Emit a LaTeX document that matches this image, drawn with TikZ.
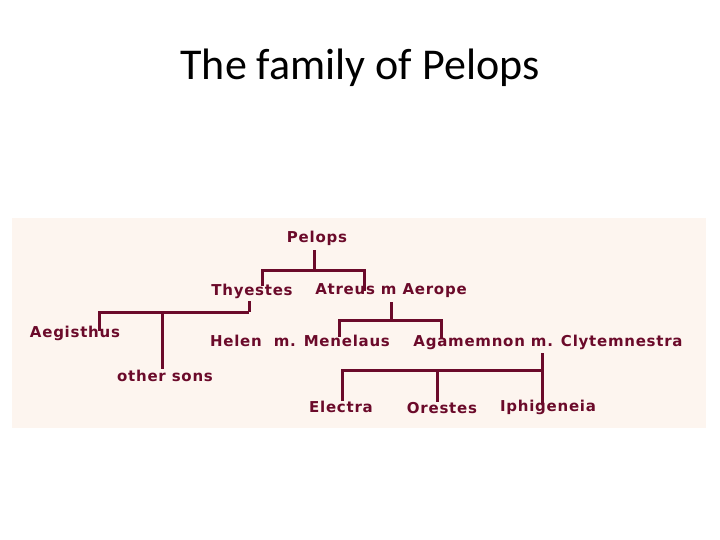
\documentclass[tikz,border=0pt]{standalone}
\usepackage{fontspec}
\setmainfont{DejaVu Sans}[LetterSpace=5]
\newfontfamily\titlefont{Carlito}
\definecolor{panel}{HTML}{FDF5EF}
\definecolor{wine}{HTML}{6B0A2A}
\begin{document}
\begin{tikzpicture}[x=1pt,y=-1pt,
  person/.style={text=wine,font=\bfseries\fontsize{15}{17}\selectfont,inner sep=1pt,anchor=center},
  link/.style={draw=wine,line width=3pt,line cap=butt,line join=miter}]
\useasboundingbox (0,0) rectangle (720,540);
\fill[panel] (12,218) rectangle (706,428);
\node[font=\titlefont\fontsize{44}{48}\selectfont] (title) at (360,68) {The family of Pelops};
\node[person] (pel) at (317,238) {Pelops};
\node[person] (thy) at (252,291) {Thyestes};
\node[person] (atr) at (391,291) {Atreus m Aerope};
\node[person] (aeg) at (75,333) {Aegisthus};
\node[person] (oth) at (165,376) {other sons};
\node[person] (hel) at (300,341) {Helen\ \ m. Menelaus};
\node[person] (aga) at (548,342) {Agamemnon m. Clytemnestra};
\node[person] (ele) at (341,407) {Electra};
\node[person] (ore) at (442,408) {Orestes};
\node[person] (iph) at (548,407) {Iphigeneia};
\coordinate (j1) at (314,270);
\coordinate (j2) at (249,312);
\coordinate (j3) at (391,320);
\coordinate (j4) at (542,370);
\draw[link] (314,250) -- (j1);
\draw[link] (262,286) -- (262,270) -- (364,270) -- (364,291);
\draw[link] (249,301) -- (j2);
\draw[link] (99,331) -- (99,312) -- (249,312);
\draw[link] (162,312) -- (162,369);
\draw[link] (391,302) -- (j3);
\draw[link] (339,337) -- (339,320) -- (441,320) -- (441,339);
\draw[link] (542,353) -- (j4);
\draw[link] (342,401) -- (342,370) -- (542,370) -- (542,404);
\draw[link] (437,370) -- (437,402);
\end{tikzpicture}
\end{document}
